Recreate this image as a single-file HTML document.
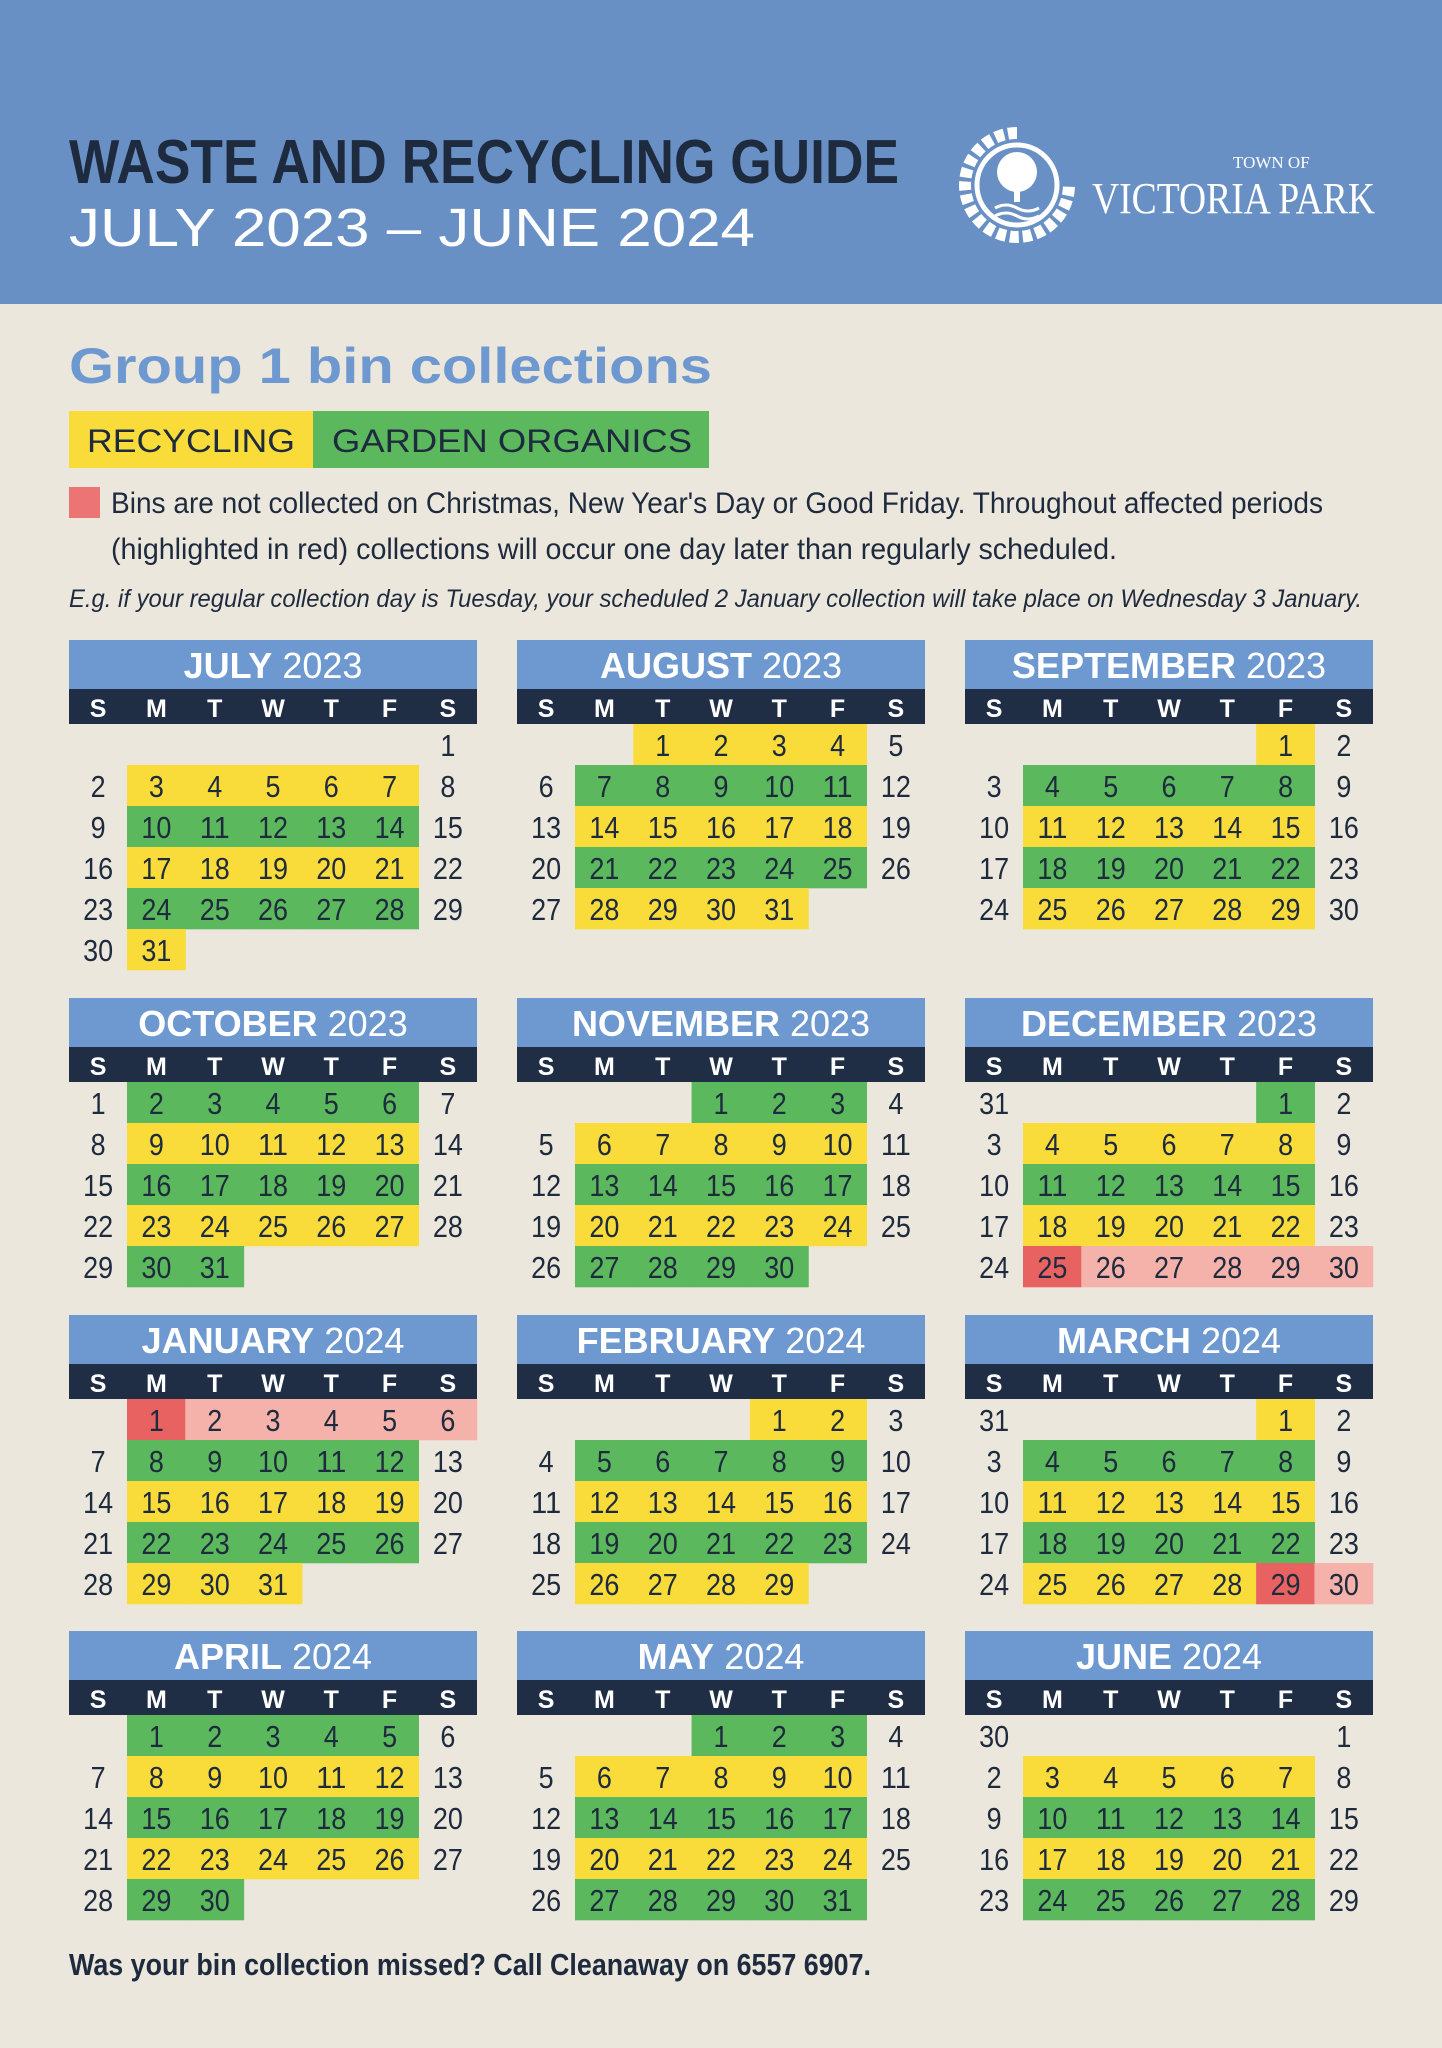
<!DOCTYPE html>
<html><head><meta charset="utf-8"><style>
html,body{margin:0;padding:0;background:#ece7dc}
svg{display:block}
</style></head><body>
<svg id="s" xmlns="http://www.w3.org/2000/svg" width="1442" height="2048" viewBox="0 0 1442 2048" font-family="'Liberation Sans', sans-serif">
<rect x="0" y="0" width="1442" height="2048" fill="#ece7dc"/>
<rect x="0" y="0" width="1442" height="304" fill="#6890c5"/>
<text x="69" y="183" font-size="62" font-weight="bold" fill="#1e2a3d" textLength="830" lengthAdjust="spacingAndGlyphs">WASTE AND RECYCLING GUIDE</text>
<text x="69" y="246" font-size="54" fill="#ffffff" textLength="686" lengthAdjust="spacingAndGlyphs">JULY 2023 – JUNE 2024</text>
<g fill="none" stroke="#ffffff">
<circle cx="1017" cy="185" r="40" stroke-width="5"/>
<path d="M1017 133 A52 52 0 1 0 1069 185" stroke-width="12" stroke-dasharray="9 4"/>
</g>
<circle cx="1017" cy="172" r="20" fill="#ffffff"/>
<rect x="1014" y="180" width="6" height="22" fill="#ffffff"/>
<path d="M995 208 q11 -6 22 0 t22 0 M995 216 q11 -6 22 0 t22 0" stroke="#fff" stroke-width="3" fill="none"/>
<text x="1233" y="168" font-size="17" fill="#ffffff" font-family="'Liberation Serif', serif">TOWN OF</text>
<text x="1092" y="213" font-size="44" fill="#ffffff" font-family="'Liberation Serif', serif" textLength="283" lengthAdjust="spacingAndGlyphs">VICTORIA PARK</text>
<text x="69" y="383" font-size="50" font-weight="bold" fill="#6e98d0" textLength="643" lengthAdjust="spacingAndGlyphs">Group 1 bin collections</text>
<rect x="69" y="411" width="244" height="57" fill="#f9dc3a"/>
<rect x="313" y="411" width="396" height="57" fill="#5cb85c"/>
<text x="87" y="452" font-size="32" fill="#1e2a3d" textLength="208" lengthAdjust="spacingAndGlyphs">RECYCLING</text>
<text x="332" y="452" font-size="32" fill="#1e2a3d" textLength="360" lengthAdjust="spacingAndGlyphs">GARDEN ORGANICS</text>
<rect x="69" y="487" width="31" height="31" fill="#ec7474"/>
<text x="111" y="513" font-size="30" fill="#1e2a3d" textLength="1212" lengthAdjust="spacingAndGlyphs">Bins are not collected on Christmas, New Year's Day or Good Friday. Throughout affected periods</text>
<text x="111" y="559" font-size="30" fill="#1e2a3d" textLength="1006" lengthAdjust="spacingAndGlyphs">(highlighted in red) collections will occur one day later than regularly scheduled.</text>
<text x="69" y="607" font-size="25" font-style="italic" fill="#1e2a3d" textLength="1293" lengthAdjust="spacingAndGlyphs">E.g. if your regular collection day is Tuesday, your scheduled 2 January collection will take place on Wednesday 3 January.</text>
<text x="69" y="1975" font-size="31" font-weight="bold" fill="#1e2a3d" textLength="802" lengthAdjust="spacingAndGlyphs">Was your bin collection missed? Call Cleanaway on 6557 6907.</text>
<g id="cals"></g>
</svg>
<script>
(function(){
var NS="http://www.w3.org/2000/svg",g=document.getElementById("cals");
function el(t,a,txt){var e=document.createElementNS(NS,t);for(var k in a)e.setAttribute(k,a[k]);if(txt!=null)e.textContent=txt;g.appendChild(e);return e;}
var names=["JULY","AUGUST","SEPTEMBER","OCTOBER","NOVEMBER","DECEMBER","JANUARY","FEBRUARY","MARCH","APRIL","MAY","JUNE"];
var xs=[69,517,965],ys=[640,998,1315,1631],W=408,cw=W/7,rh=41;
var base=Date.UTC(2023,6,2);
var red={"2023-12-25":1,"2024-1-1":1,"2024-3-29":1};
var pink={"2023-12-26":1,"2023-12-27":1,"2023-12-28":1,"2023-12-29":1,"2023-12-30":1,"2024-1-2":1,"2024-1-3":1,"2024-1-4":1,"2024-1-5":1,"2024-1-6":1,"2024-3-30":1};
for(var i=0;i<12;i++){
 var m=(6+i)%12,y=i<6?2023:2024,x0=xs[i%3],y0=ys[Math.floor(i/3)];
 el("rect",{x:x0,y:y0,width:W,height:49,fill:"#6e98d0"});
 var t=el("text",{x:x0+W/2,y:y0+38,"text-anchor":"middle","font-size":36,fill:"#fff"});
 var a=document.createElementNS(NS,"tspan");a.setAttribute("font-weight","bold");a.textContent=names[i];t.appendChild(a);
 var b=document.createElementNS(NS,"tspan");b.textContent=" "+y;t.appendChild(b);
 el("rect",{x:x0,y:y0+49,width:W,height:35,fill:"#1f2d45"});
 "SMTWTFS".split("").forEach(function(c,k){el("text",{x:x0+cw*k+cw/2,y:y0+77,"text-anchor":"middle","font-size":25,"font-weight":"bold",fill:"#fff"},c);});
 var first=new Date(Date.UTC(y,m,1)).getUTCDay(),nd=new Date(Date.UTC(y,m+1,0)).getUTCDate();
 for(var d=1;d<=nd;d++){
  var pos=first+d-1,row=Math.floor(pos/7),col=pos%7;
  if(row==5&&col==0&&d==nd){row=0;}
  var cx=x0+cw*col,cy=y0+84+row*rh;
  var key=y+"-"+(m+1)+"-"+d,fill=null;
  if(red[key])fill="#e86262";else if(pink[key])fill="#f5b2aa";
  else if(col>=1&&col<=5){
   var wk=Math.floor((Date.UTC(y,m,d)-base)/864e5/7);fill=wk%2==0?"#f9dc3a":"#5cb85c";}
  if(fill)el("rect",{x:cx-0.3,y:cy,width:cw+0.6,height:rh+0.3,fill:fill});
  el("text",{x:cx+cw/2,y:cy+32,"text-anchor":"middle","font-size":31,fill:"#1e2a3d",textLength:d>9?30:15,lengthAdjust:"spacingAndGlyphs"},d);
 }
}
})();
</script>
</body></html>
